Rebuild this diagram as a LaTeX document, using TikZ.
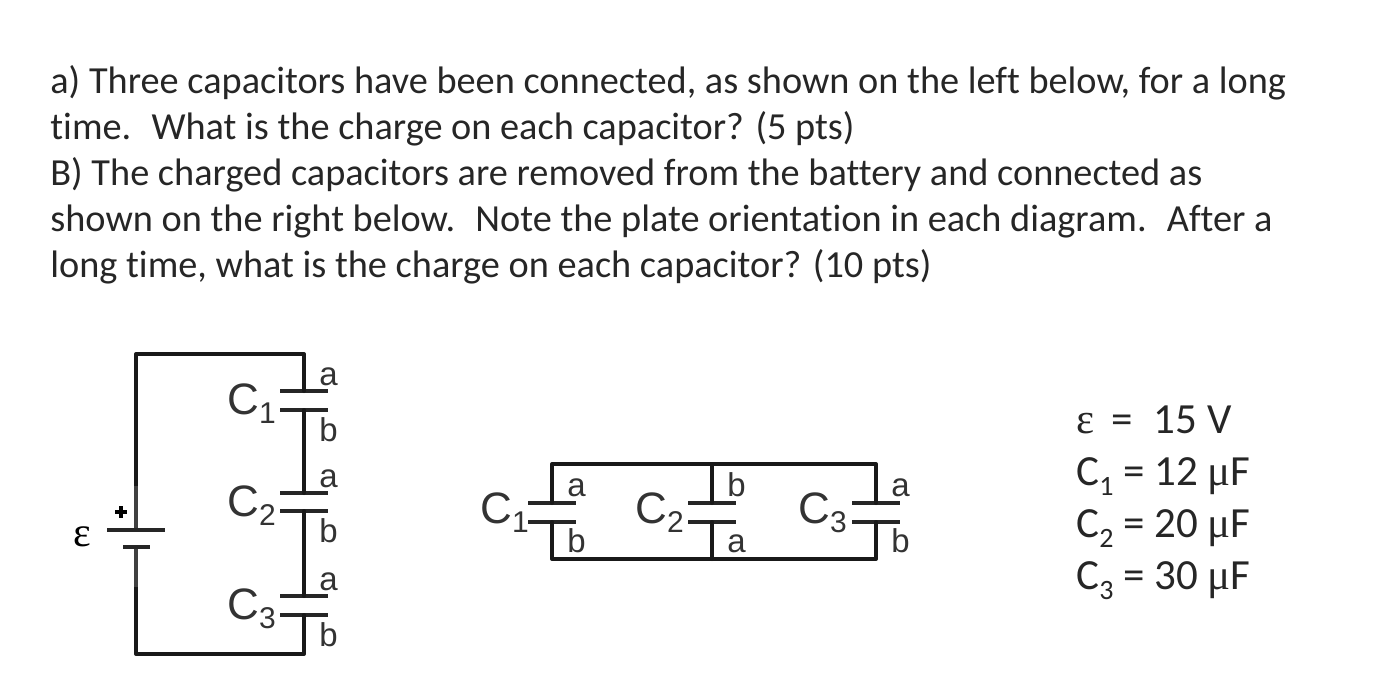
\documentclass[tikz,border=0pt]{standalone}
\usepackage{fontspec}
\setmainfont[Ligatures=NoCommon]{Carlito}
\setsansfont{Liberation Sans}
\newfontfamily\symfont{Liberation Serif}
\tikzset{
	wire/.style={line width=2pt,line cap=round,line join=round,black!90},
	lead/.style={line width=1.7pt,black!75},
	plate/.style={line width=2pt,black!85},
	question/.style={anchor=base west,inner sep=0pt,font=\fontsize{19.15}{22}\selectfont,text=black!85},
	given/.style={anchor=base west,inner sep=0pt,font=\fontsize{21.5}{24}\selectfont,text=black!85},
	capname/.style={anchor=base west,inner sep=0pt,font=\sffamily\fontsize{22}{24}\selectfont,text=black!80},
	platename/.style={anchor=base west,inner sep=0pt,font=\sffamily\fontsize{16.5}{18}\selectfont,text=black!80}
}
\newcommand{\capsub}[1]{\raisebox{-4.5pt}{\fontsize{15}{16}\selectfont #1}}
\newcommand{\givensub}[1]{\raisebox{-0.5ex}{\fontsize{14}{16}\selectfont #1}}
\begin{document}
\begin{tikzpicture}[x=0.5pt,y=-0.5pt]
	\useasboundingbox (0,0) rectangle (1386,696);
	
	% question text
	\node[question] (line1) at (50,93) {a) Three capacitors have been connected, as shown on the left below, for a long};
	\node[question] (line2) at (50,139) {time.~ What is the charge on each capacitor? (5 pts)};
	\node[question] (line3) at (50,185) {B) The charged capacitors are removed from the battery and connected as};
	\node[question] (line4) at (50,231) {shown on the right below.~ Note the plate orientation in each diagram.~ After a};
	\node[question] (line5) at (50,277) {long time, what is the charge on each capacitor? (10 pts)};
	
	% left circuit
	\coordinate (top left) at (136,354);
	\coordinate (top right) at (304,354);
	\coordinate (bottom left) at (136,654);
	\coordinate (bottom right) at (304,654);
	\coordinate (batt plus) at (136,530);
	\coordinate (batt minus) at (136,547);
	\coordinate (lead plus) at (136,486);
	\coordinate (lead minus) at (136,587);
	\foreach \n/\ya/\yb in {1/391/410,2/493/511,3/596/615} {
		\coordinate (L\n a) at (304,\ya);
		\coordinate (L\n b) at (304,\yb);
		\draw[plate] (280,\ya) -- (328,\ya);
		\draw[plate] (280,\yb) -- (328,\yb);
		\node[platename] (L\n atext) at (319,\ya-6) {a};
		\node[platename] (L\n btext) at (319,\yb+31) {b};
		\node[capname] (L\n name) at (227,\ya+23) {C\capsub{\n}};
	}
	\draw[wire] (lead plus) -- (top left) -- (top right) -- (L1a);
	\draw[wire] (L1b) -- (L2a);
	\draw[wire] (L2b) -- (L3a);
	\draw[wire] (L3b) -- (bottom right) -- (bottom left) -- (lead minus);
	\draw[lead] (lead plus) -- (batt plus);
	\draw[lead] (batt minus) -- (lead minus);
	\draw[plate] (107,530) -- (165,530);
	\draw[plate] (123,547) -- (150,547);
	\draw[line width=1.8pt] (115,512) -- (127,512) (121,506) -- (121,518);
	\node[inner sep=0pt,anchor=base,font=\symfont\fontsize{21}{22}\selectfont] (emf) at (82,546) {ε};
	
	% right circuit
	\coordinate (rtop left) at (552,464);
	\coordinate (rtop right) at (876,464);
	\coordinate (rbottom left) at (552,559);
	\coordinate (rbottom right) at (876,559);
	\coordinate (rtop mid) at (712,464);
	\coordinate (rbottom mid) at (712,559);
	\foreach \n/\x/\ta/\tb/\xn in {1/552/a/b/480,2/712/b/a/635,3/876/a/b/798} {
		\coordinate (R\n u) at (\x,503);
		\coordinate (R\n d) at (\x,522);
		\draw[plate] (\x-24,503) -- (\x+24,503);
		\draw[plate] (\x-24,522) -- (\x+24,522);
		\node[platename] (R\n utext) at (\x+15,496) {\ta};
		\node[platename] (R\n dtext) at (\x+15,552) {\tb};
		\node[capname] (R\n name) at (\xn,523) {C\capsub{\n}};
	}
	\draw[wire] (R1u) -- (rtop left) -- (rtop right) -- (R3u);
	\draw[wire] (R1d) -- (rbottom left) -- (rbottom right) -- (R3d);
	\draw[wire] (rtop mid) -- (R2u);
	\draw[wire] (rbottom mid) -- (R2d);
	
	% values
	\node[given] (val emf) at (1076,433) {{\symfont ε}\hspace{3.7pt} = \hspace{5.5pt}15 V};
	\node[given] (val C1) at (1076,485) {C\givensub{1} = 12 {\symfont μ}F};
	\node[given] (val C2) at (1076,537) {C\givensub{2} = 20 {\symfont μ}F};
	\node[given] (val C3) at (1076,589) {C\givensub{3} = 30 {\symfont μ}F};
\end{tikzpicture}
\end{document}
